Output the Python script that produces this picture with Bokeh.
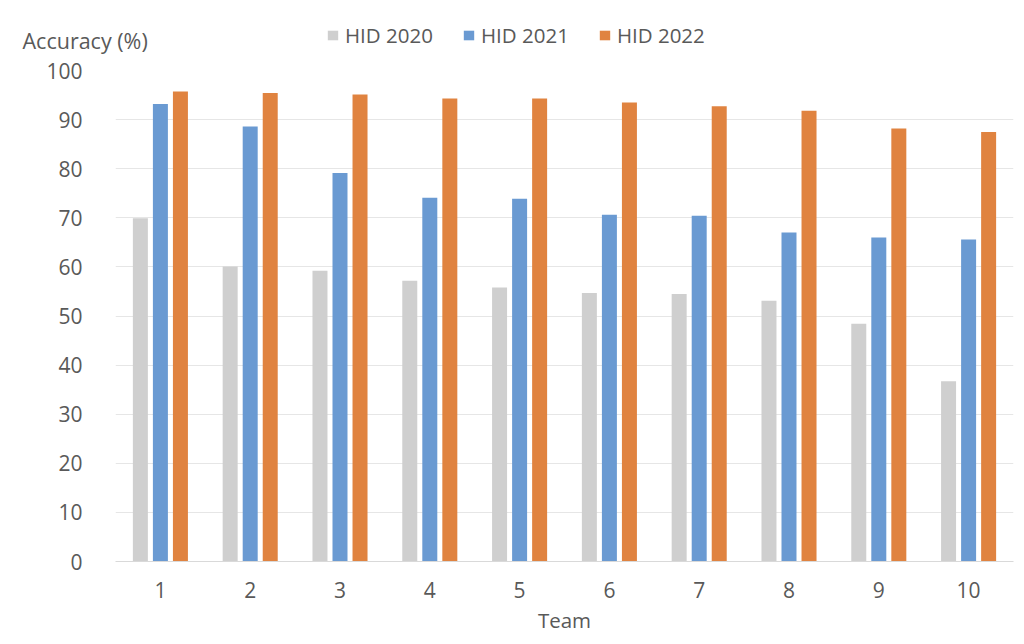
from bokeh.plotting import figure
from bokeh.models import ColumnDataSource, FactorRange, Range1d, Legend, LegendItem, Label, FixedTicker
from bokeh.layouts import column
from bokeh.transform import dodge
from bokeh.embed import file_html
from bokeh.resources import INLINE

teams = ["1", "2", "3", "4", "5", "6", "7", "8", "9", "10"]
hid2020 = [69.9, 60.1, 59.2, 57.2, 55.8, 54.7, 54.5, 53.1, 48.4, 36.7]
hid2021 = [93.2, 88.6, 79.1, 74.1, 73.9, 70.6, 70.4, 67.0, 66.0, 65.6]
hid2022 = [95.7, 95.4, 95.1, 94.3, 94.3, 93.5, 92.7, 91.8, 88.2, 87.5]
series_names = ["HID 2020", "HID 2021", "HID 2022"]
series_cols = ["h20", "h21", "h22"]
colors = ["#cfcfcf", "#6a9ad2", "#e08340"]
y_ticks = [0, 10, 20, 30, 40, 50, 60, 70, 80, 90, 100]

FONT = "Open Sans"
TXT = "#595959"
W = 1016

src = ColumnDataSource(dict(team=teams, h20=hid2020, h21=hid2021, h22=hid2022))

# ---- header: y-axis title + legend (bars here lie outside its range, only legend swatches show) ----
hdr = figure(width=W, height=58, x_range=FactorRange(factors=teams), y_range=Range1d(1000, 1001),
             output_backend="svg", toolbar_location=None,
             min_border_left=0, min_border_right=0, min_border_top=0, min_border_bottom=0)
hdr.frame_align = False
hdr.axis.visible = False
hdr.grid.visible = False
hdr.outline_line_color = None
hdr.add_layout(Label(x=22, y=18, x_units="screen", y_units="screen", text="Accuracy (%)",
                     text_baseline="middle", text_font=FONT, text_font_size="21.5px", text_color=TXT))
hr = [hdr.vbar(x="team", top=c, width=0.1, source=src, color=col, line_color=None)
      for c, col in zip(series_cols, colors)]
legend = Legend(items=[LegendItem(label=n, renderers=[r]) for n, r in zip(series_names, hr)],
                orientation="horizontal", location=(326, 9),
                glyph_width=13, glyph_height=12, label_standoff=6, spacing=29,
                padding=0, margin=0, border_line_color=None, background_fill_alpha=0,
                label_text_font=FONT, label_text_font_size="20.5px", label_text_color=TXT)
hdr.add_layout(legend, "center")

# ---- main chart ----
p = figure(x_range=FactorRange(factors=teams, range_padding=0), y_range=Range1d(0, 100),
           width=W, height=578, output_backend="svg", toolbar_location=None,
           min_border_left=115, min_border_right=3, min_border_top=12, min_border_bottom=75)
p.outline_line_color = None

bw = 0.167
off = 0.223
for c, col, o in zip(series_cols, colors, [-off, 0, off]):
    p.vbar(x=dodge("team", o, range=p.x_range), top=c, width=bw, source=src, color=col, line_color=None)

p.yaxis.ticker = FixedTicker(ticks=y_ticks)
p.yaxis.axis_line_color = None
p.yaxis.major_tick_line_color = None
p.yaxis.minor_tick_line_color = None
p.yaxis.major_label_standoff = 27
p.yaxis.major_label_text_font = FONT
p.yaxis.major_label_text_font_size = "21px"
p.yaxis.major_label_text_color = TXT

p.xaxis.axis_line_color = "#d9d9d9"
p.xaxis.major_tick_line_color = None
p.xaxis.minor_tick_line_color = None
p.xaxis.major_label_standoff = 14
p.xaxis.major_label_text_font = FONT
p.xaxis.major_label_text_font_size = "21px"
p.xaxis.major_label_text_color = TXT
p.xaxis.axis_label = "Team"
p.xaxis.axis_label_standoff = 5
p.xaxis.axis_label_text_font = FONT
p.xaxis.axis_label_text_font_size = "20.5px"
p.xaxis.axis_label_text_font_style = "normal"
p.xaxis.axis_label_text_color = TXT

p.xgrid.grid_line_color = None
p.ygrid.grid_line_color = "#e6e6e6"

layout = column(hdr, p, spacing=0)
open("out.html", "w").write(file_html(layout, INLINE))
